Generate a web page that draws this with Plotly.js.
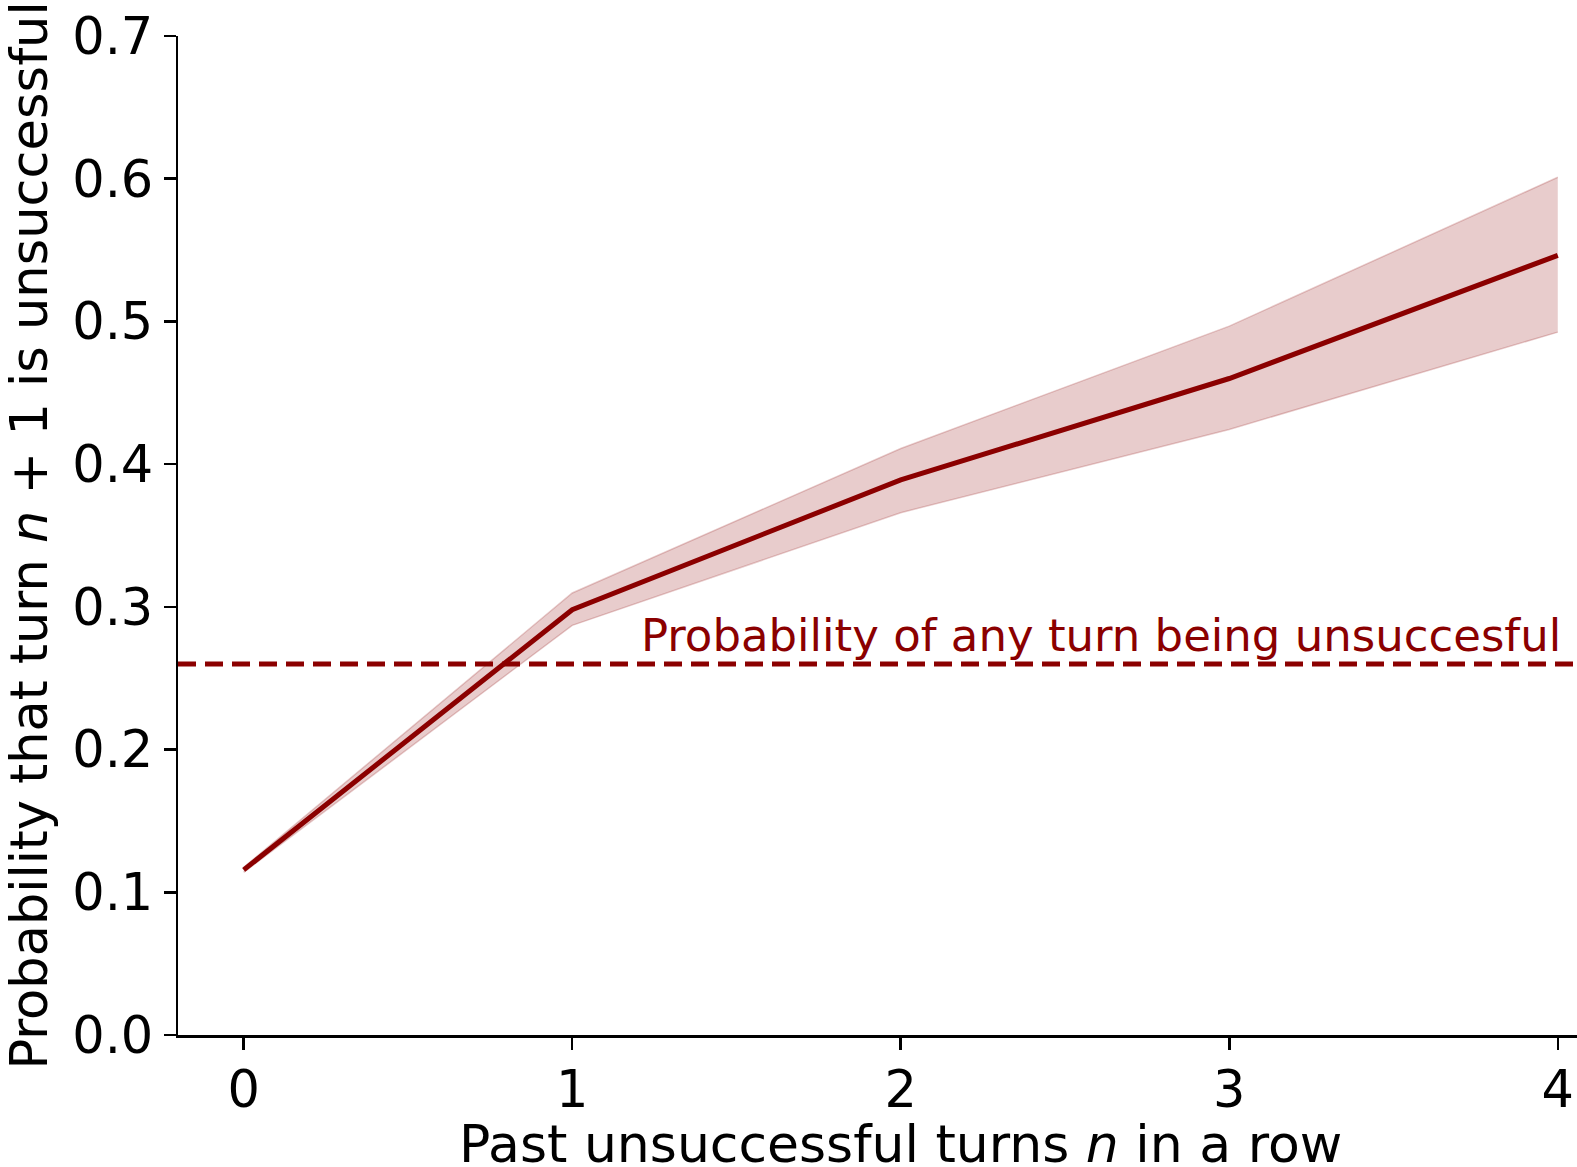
<!DOCTYPE html>
<html>
<head>
<meta charset="utf-8">
<script src="https://cdn.plot.ly/plotly-3.0.1.min.js"></script>
<style>html,body{margin:0;padding:0;background:#fff;}#chart{width:1577px;height:1167px;}</style>
</head>
<body>
<div id="chart"></div>
<script>
// Data
const pastFails = [0, 1, 2, 3, 4];
const probMean  = [0.1157, 0.298, 0.389, 0.460, 0.5463];
const probUpper = [0.1175, 0.3097, 0.411, 0.4967, 0.601];
const probLower = [0.1140, 0.287, 0.366, 0.4243, 0.4925];
const baseRate = 0.26;
const baseRateLabel = 'Probability of any turn being unsuccesful';
const xTickVals = [0, 1, 2, 3, 4];
const yTickVals = [0, 0.1, 0.2, 0.3, 0.4, 0.5, 0.6, 0.7];

const red = '#8b0000';
const band = 'rgba(139,0,0,0.2)';
const font = 'DejaVu Sans, sans-serif';

const traces = [
  {x: pastFails, y: probUpper, mode: 'lines', line: {color: band, width: 1.5}, hoverinfo: 'skip', showlegend: false},
  {x: pastFails, y: probLower, mode: 'lines', fill: 'tonexty', fillcolor: band, line: {color: band, width: 1.5}, hoverinfo: 'skip', showlegend: false},
  {x: pastFails, y: probMean, mode: 'lines', line: {color: red, width: 5}, showlegend: false}
];

const layout = {
  width: 1577, height: 1167,
  margin: {l: 178, r: 0, t: 36, b: 132, pad: 0},
  paper_bgcolor: '#fff', plot_bgcolor: '#fff',
  font: {family: font, color: '#000', size: 51},
  showlegend: false,
  xaxis: {
    range: [-0.2, 4.0585],
    tickvals: xTickVals, ticktext: xTickVals.map(String),
    ticks: 'outside', ticklen: 12, tickwidth: 2.5, tickcolor: '#000',
    ticklabelstandoff: -4,
    showline: true, linecolor: '#000', linewidth: 2.5, mirror: false,
    showgrid: false, zeroline: false,
    tickfont: {family: font, size: 51, color: '#000'}
  },
  yaxis: {
    range: [0, 0.7],
    tickvals: yTickVals, tickformat: '.1f',
    ticks: 'outside', ticklen: 12, tickwidth: 2.5, tickcolor: '#000',
    showline: true, linecolor: '#000', linewidth: 2.5, mirror: false,
    showgrid: false, zeroline: false,
    tickfont: {family: font, size: 51, color: '#000'},
    title: {text: 'Probability that turn <i>n</i> + 1 is unsuccessful', font: {family: font, size: 51, color: '#000'}, standoff: 27}
  },
  shapes: [
    {type: 'line', xref: 'paper', x0: 0, x1: 1, yref: 'y', y0: baseRate, y1: baseRate,
     line: {color: red, width: 5, dash: '18px,9px'}}
  ],
  annotations: [
    {x: xTickVals[xTickVals.length - 1], y: baseRate, xref: 'x', yref: 'y', xanchor: 'right', yanchor: 'bottom',
     xshift: 5, yshift: 0, text: baseRateLabel, showarrow: false, font: {family: font, size: 45, color: red}},
    {x: 2, y: 0, xref: 'x', yref: 'paper', xanchor: 'center', yanchor: 'top', yshift: -77,
     text: 'Past unsuccessful turns <i>n</i> in a row', showarrow: false, font: {family: font, size: 52, color: '#000'}}
  ]
};

Plotly.newPlot('chart', traces, layout, {displayModeBar: false, staticPlot: true});
</script>
</body>
</html>
